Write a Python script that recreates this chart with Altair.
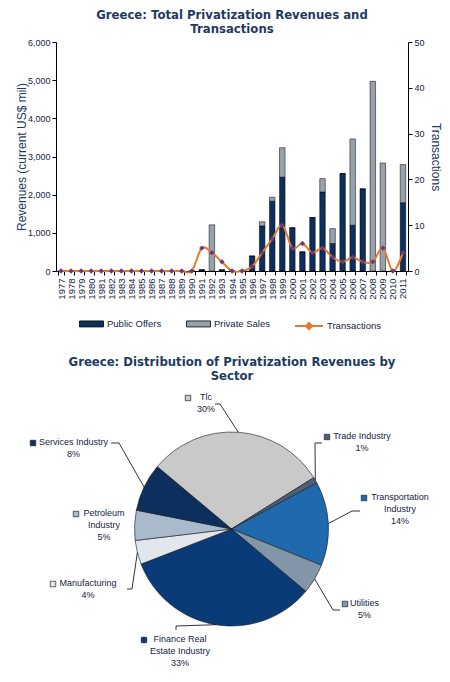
import altair as alt
import pandas as pd
import math

# ---------------- data ----------------
years = ["1977", "1978", "1979", "1980", "1981", "1982", "1983", "1984", "1985",
         "1986", "1987", "1988", "1989", "1990", "1991", "1992", "1993", "1994",
         "1995", "1996", "1997", "1998", "1999", "2000", "2001", "2002", "2003",
         "2004", "2005", "2006", "2007", "2008", "2009", "2010", "2011"]
public_offers = [0, 0, 0, 0, 0, 0, 0, 0, 0, 0, 0, 0, 0, 0, 30, 0, 30, 0, 0, 390,
                 1180, 1830, 2460, 1130, 500, 1400, 2070, 720, 2550, 1200, 2150,
                 0, 0, 0, 1790]
private_sales = [0, 0, 0, 0, 0, 0, 0, 0, 0, 0, 0, 0, 0, 0, 0, 1210, 0, 0, 0, 0,
                 110, 105, 770, 0, 0, 0, 350, 390, 0, 2260, 0, 4970, 2830, 0, 1000]
transactions = [0, 0, 0, 0, 0, 0, 0, 0, 0, 0, 0, 0, 0, 0, 5, 4, 2, 0, 0, 1,
                4, 7, 10, 5, 6, 4, 5, 3, 2, 3, 2, 2, 5, 0, 4]

sectors = ["Tlc", "Trade Industry", "Transportation Industry", "Utilities",
           "Finance Real Estate Industry", "Manufacturing", "Petroleum Industry",
           "Services Industry"]
shares = [30, 1, 14, 5, 33, 4, 5, 8]

# ---------------- styles / layout ----------------
C_PUBLIC = "#0C2F5E"
C_PRIVATE = "#98A2AC"
C_LINE = "#E8782A"
C_MARK = "#6B3A7B"
TITLE_C = "#1F3A5F"
TXT_C = "#15243F"
pie_colors = ["#C9C9C9", "#4E6077", "#1F69AC", "#8396A7", "#0B3A78",
              "#E2E7EE", "#A9BACB", "#0C2F5E"]

# label layout relative to pie centre (pixels)
label_lines = ["Tlc", "Trade Industry", "Transportation\nIndustry", "Utilities",
               "Finance Real\nEstate Industry", "Manufacturing",
               "Petroleum\nIndustry", "Services Industry"]
lab_dx = [-25.5, 130.5, 168.5, 133, -51.5, -143.5, -127.5, -158]
lab_dy = [-131, -92, -31, 75, 111, 55, -15, -86]
sq_dx = [-43.5, 95.5, 132.5, 113.5, -87.5, -178.5, -155.5, -198.5]
elb_dx = [-11.5, 83.5, 120.5, 101.5, -55.5, -99.5, -97, -112.5]
elb_dy = [-125, -86, -18, 81, 97, 60, -4, -86]
end_dx = [-16.5, 90.5, 128.5, 108.5, -55.5, -104.5, -97, -120.5]
end_dy = [-125, -86, -18, 81, 101, 60, -4, -86]
has_leader = [1, 1, 1, 1, 1, 1, 0, 1]

FONT = "Liberation Sans"
TFONT = "DejaVu Sans"

# ---------------- top chart ----------------
bar_rows = []
for i, y in enumerate(years):
    bar_rows.append({"year": y, "type": "Public Offers", "value": public_offers[i], "ord": 0})
    bar_rows.append({"year": y, "type": "Private Sales", "value": private_sales[i], "ord": 1})
bar_df = pd.DataFrame(bar_rows)
tx_df = pd.DataFrame({"year": years, "tx": transactions, "series": "Transactions"})

x_enc = alt.X("year:O", sort=years,
              scale=alt.Scale(paddingInner=0.45, paddingOuter=0.225),
              axis=alt.Axis(title=None, labelAngle=-90, tickBand="extent",
                            labelFontSize=9.5, labelPadding=3, tickSize=4,
                            labelAlign="right", labelBaseline="middle"))

bars = alt.Chart(bar_df).mark_bar(stroke="black", strokeWidth=0.5).encode(
    x=x_enc,
    y=alt.Y("value:Q", stack="zero",
            scale=alt.Scale(domain=[0, 6000], nice=False),
            axis=alt.Axis(title="Revenues (current US$ mil)",
                          values=[0, 1000, 2000, 3000, 4000, 5000, 6000],
                          format=",.0f", titlePadding=-1)),
    color=alt.Color("type:N",
                    scale=alt.Scale(domain=["Public Offers", "Private Sales"],
                                    range=[C_PUBLIC, C_PRIVATE]),
                    legend=alt.Legend(orient="none", legendX=23, legendY=269,
                                      direction="horizontal", title=None,
                                      symbolType="M-1,-0.25H1V0.25H-1Z",
                                      symbolSize=576, symbolStrokeColor="black",
                                      symbolStrokeWidth=0.8, columnPadding=22,
                                      labelOffset=3)),
    order=alt.Order("ord:Q"),
)

y_tx = alt.Y("tx:Q", scale=alt.Scale(domain=[0, 50], nice=False),
             axis=alt.Axis(orient="right", title="Transactions",
                           values=[0, 10, 20, 30, 40, 50], titlePadding=4))

line = alt.Chart(tx_df).mark_line(interpolate="cardinal", strokeWidth=2).encode(
    x=alt.X("year:O", sort=years),
    y=y_tx,
    stroke=alt.Stroke("series:N",
                      scale=alt.Scale(domain=["Transactions"], range=[C_LINE]),
                      legend=alt.Legend(orient="none", legendX=238, legendY=269,
                                        title=None,
                                        symbolType="M-1,0H1M0,-0.22L0.22,0L0,0.22L-0.22,0Z",
                                        symbolSize=784, symbolStrokeWidth=2,
                                        symbolFillColor=C_MARK, labelOffset=3)),
)
pts = alt.Chart(tx_df).mark_point(shape="diamond", filled=True, size=28,
                                  color=C_MARK, opacity=1).encode(
    x=alt.X("year:O", sort=years),
    y=y_tx,
)

top = alt.layer(bars, alt.layer(line, pts)).resolve_scale(
    y="independent", color="independent").properties(
    width=352, height=229,
    title=alt.Title(["Greece: Total Privatization Revenues and", "Transactions"],
                    font=TFONT, fontSize=11.7, fontWeight="bold", color=TITLE_C,
                    anchor="middle", offset=2, lineHeight=14))

# ---------------- pie chart ----------------
CX, CY, R = 175.5, 140, 97
START = math.radians(310)

pie_df = pd.DataFrame({
    "sector": sectors, "share": shares, "order": list(range(len(sectors))),
    "lines": [l + "\n" + f"{s}%" for l, s in zip(label_lines, shares)],
    "lx": [CX + v for v in lab_dx], "ly": [CY + v - 5 for v in lab_dy],
    "sx": [CX + v for v in sq_dx], "sy": [CY + v for v in lab_dy],
    "bx": [CX + v for v in elb_dx], "by": [CY + v for v in elb_dy],
    "tx": [CX + v for v in end_dx], "ty": [CY + v for v in end_dy],
    "lead": has_leader,
})

color_pie = alt.Color("sector:N", scale=alt.Scale(domain=sectors, range=pie_colors),
                      legend=None)

arcs = alt.Chart(pie_df).mark_arc(outerRadius=R, stroke="#1a1a1a",
                                  strokeWidth=0.6).encode(
    theta=alt.Theta("share:Q", stack=True,
                    scale=alt.Scale(domain=[0, 100], range=[START, START + 2 * math.pi])),
    color=color_pie,
    order=alt.Order("order:Q"),
    x=alt.value(CX), y=alt.value(CY),
)

lead_base = alt.Chart(pie_df).transform_window(
    cum="sum(share)", sort=[alt.SortField("order")], frame=[None, 0]
).transform_calculate(
    ang=f"{START} + (datum.cum - datum.share / 2) / 100 * 2 * PI",
    ex=f"{CX} + {R} * sin(datum.ang)",
    ey=f"{CY} - {R} * cos(datum.ang)",
).transform_filter("datum.lead == 1")

rule_a = lead_base.mark_rule(color="black", strokeWidth=0.8).encode(
    x=alt.X("ex:Q", scale=None), y=alt.Y("ey:Q", scale=None),
    x2="bx:Q", y2="by:Q")
rule_b = lead_base.mark_rule(color="black", strokeWidth=0.8).encode(
    x=alt.X("bx:Q", scale=None), y=alt.Y("by:Q", scale=None),
    x2="tx:Q", y2="ty:Q")

labels = alt.Chart(pie_df).mark_text(
    font=FONT, fontSize=9, color=TXT_C, align="center", baseline="top",
    lineBreak="\n", lineHeight=12).encode(
    x=alt.X("lx:Q", scale=None), y=alt.Y("ly:Q", scale=None), text="lines:N")

squares = alt.Chart(pie_df).mark_square(size=30, filled=True, stroke="#222",
                                        strokeWidth=0.7, opacity=1).encode(
    x=alt.X("sx:Q", scale=None), y=alt.Y("sy:Q", scale=None), color=color_pie)

pie = alt.layer(arcs, rule_a, rule_b, squares, labels).properties(
    width=352, height=290,
    title=alt.Title(["Greece: Distribution of Privatization Revenues by", "Sector"],
                    font=TFONT, fontSize=11.7, fontWeight="bold", color=TITLE_C,
                    anchor="middle", offset=6, lineHeight=14))

chart = alt.vconcat(top, pie, spacing=28).properties(
    padding={"left": 7, "top": 2, "right": 0, "bottom": 0}
).configure_view(stroke=None).configure_axis(
    labelFont=FONT, labelFontSize=9, labelColor=TXT_C, titleFont=FONT,
    titleFontSize=12, titleFontWeight="normal", titleColor="#1B3A63",
    domainColor="black", tickColor="black", grid=False, tickSize=4,
    labelPadding=2
).configure_legend(labelFont=FONT, labelFontSize=9.5, labelColor=TXT_C)

chart.save("out.html", embed_options={"renderer": "svg", "actions": False})
